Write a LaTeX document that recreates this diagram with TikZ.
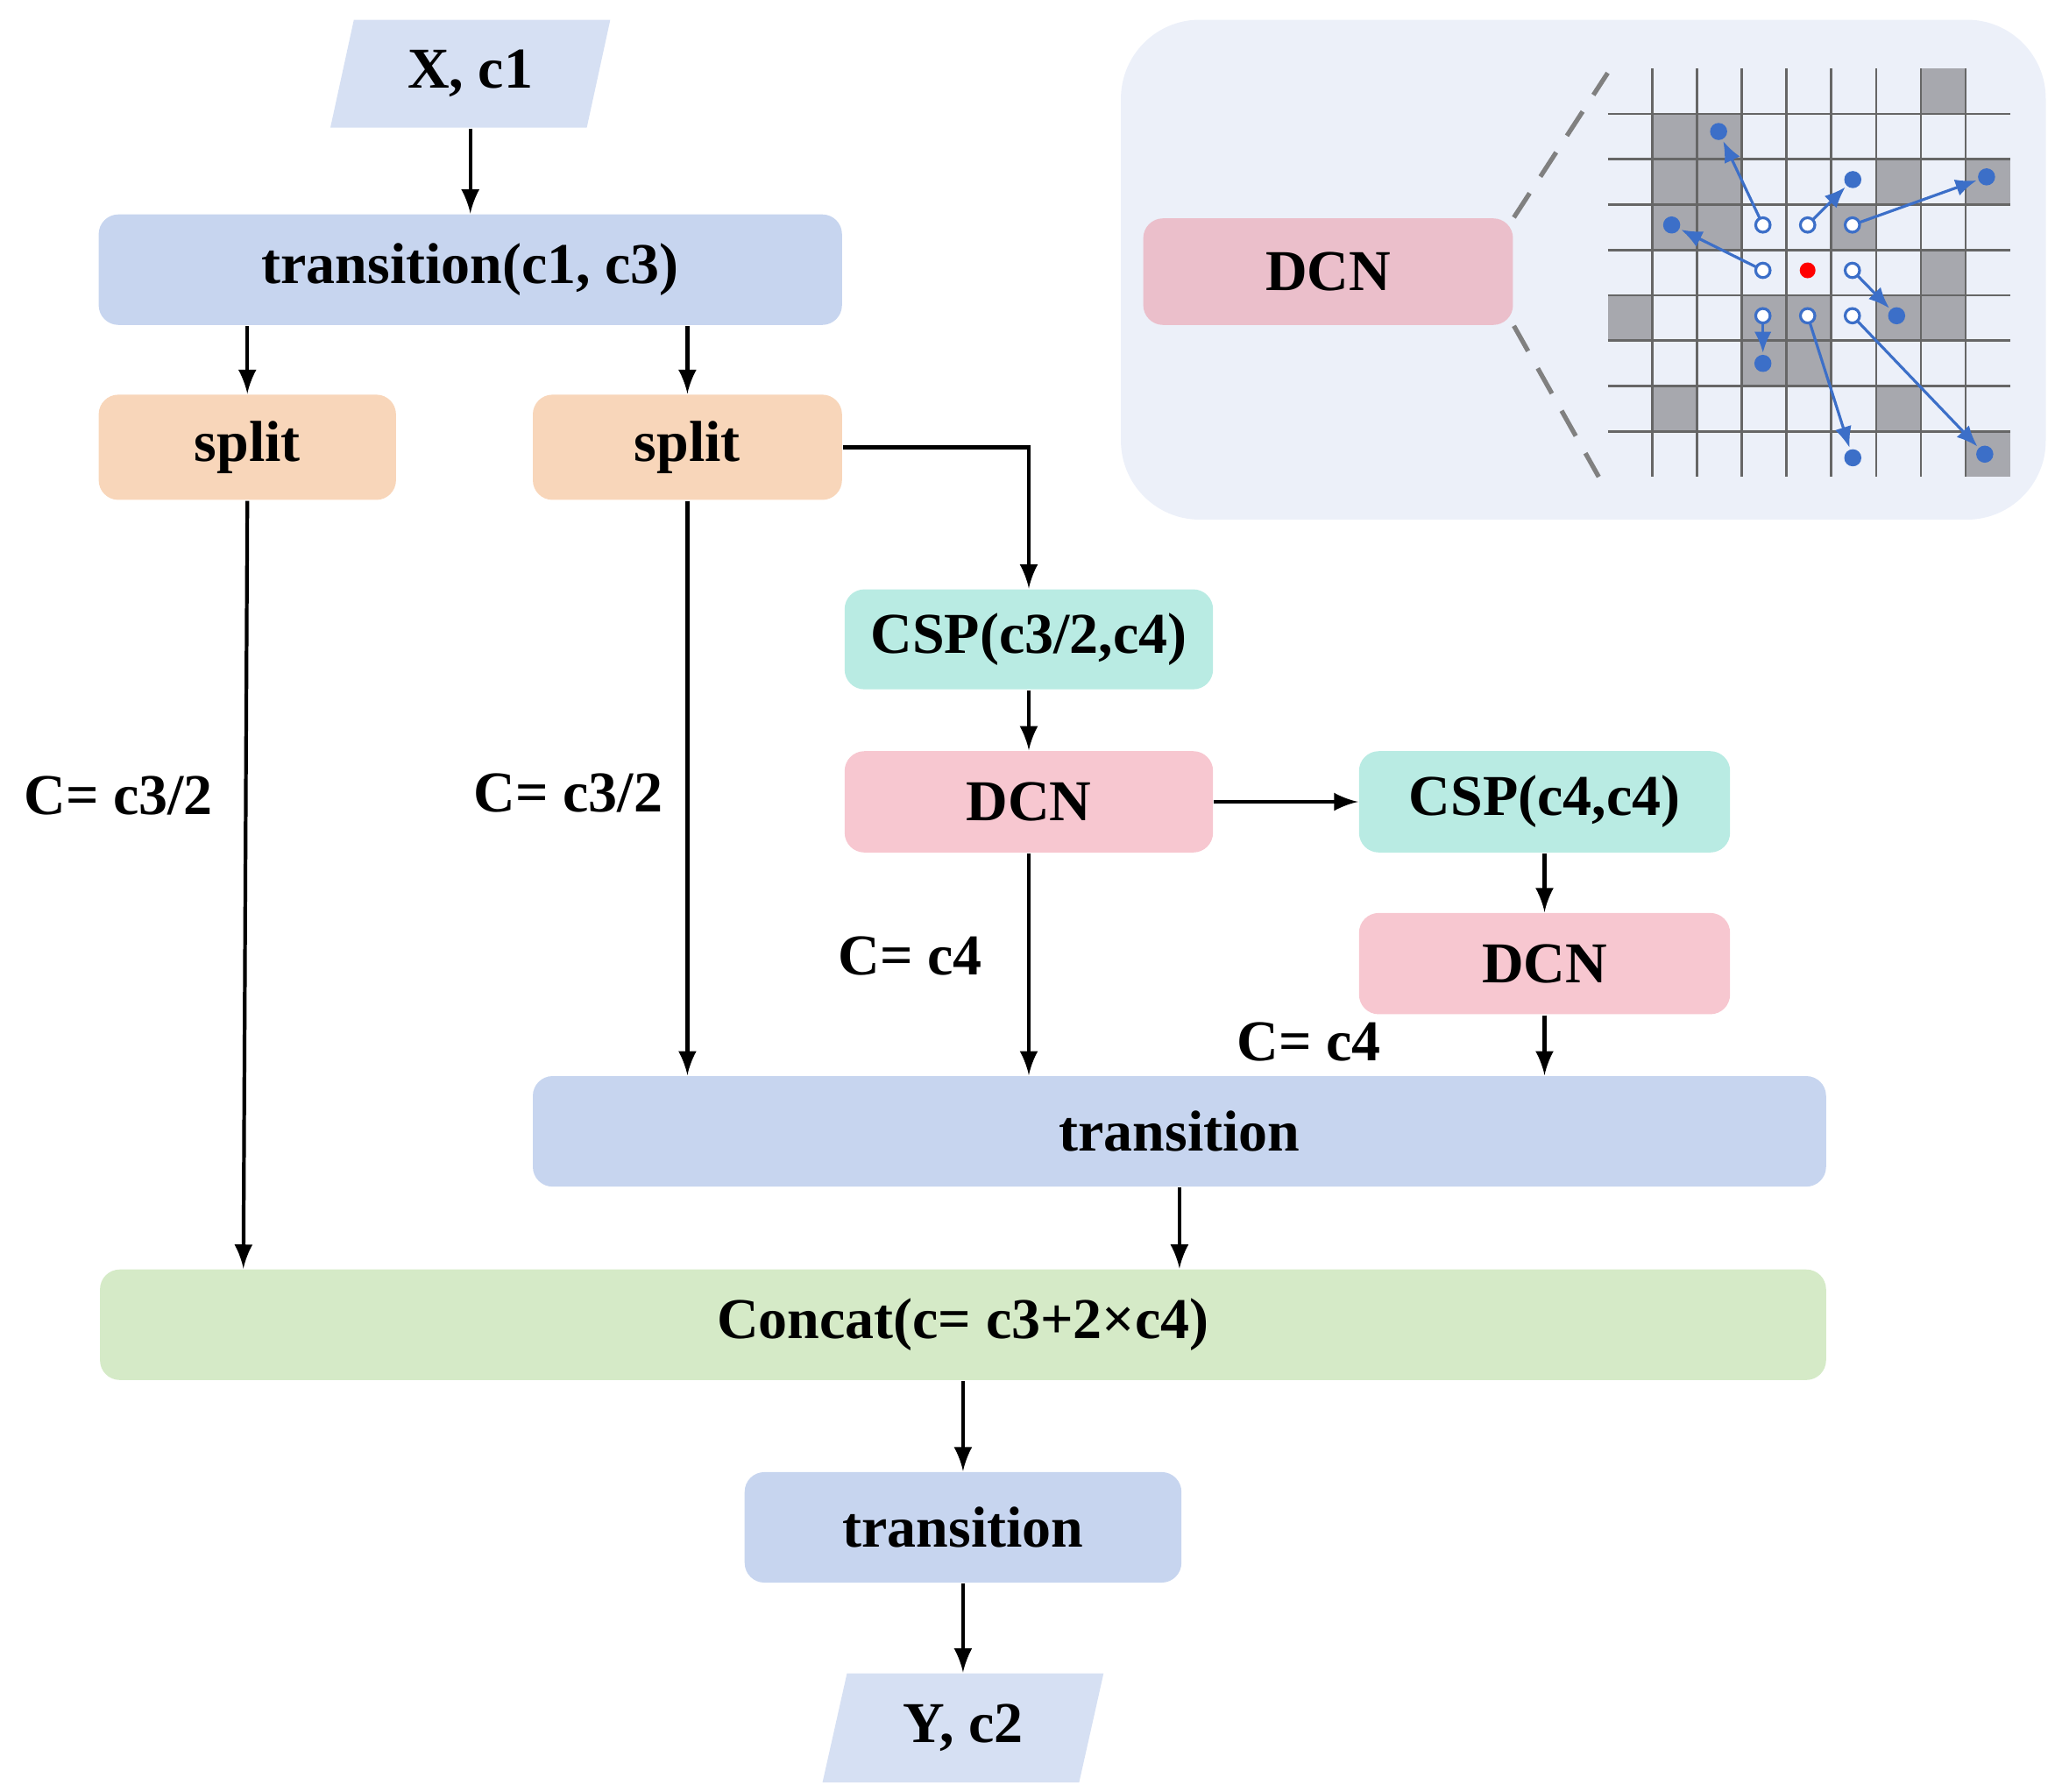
\documentclass[tikz,border=0pt]{standalone}
\usepackage{fontspec}
\setmainfont{Liberation Serif}
\usetikzlibrary{shapes.geometric, arrows.meta, calc}
\tikzset{>=latex}
\definecolor{trblue}{HTML}{C7D5EF}
\definecolor{ioblue}{HTML}{D6E0F3}
\definecolor{splitor}{HTML}{F8D6BA}
\definecolor{cspcyan}{HTML}{B9EBE3}
\definecolor{dcnpink}{HTML}{F7C7D0}
\definecolor{catgreen}{HTML}{D5EAC7}
\definecolor{insetbg}{HTML}{ECF0F9}
\definecolor{insetpink}{HTML}{EBBFCB}
\definecolor{cellgray}{HTML}{A7A8AE}
\definecolor{ptblue}{HTML}{3C6FC8}
\tikzset{
  blk/.style={rounded corners=1.5mm, draw=none, font=\bfseries\fontsize{12.5}{15}\selectfont, inner sep=0pt},
  io/.style={trapezium, trapezium left angle=75, trapezium right angle=105, trapezium stretches=true,
    fill=ioblue, font=\bfseries\fontsize{12.5}{15}\selectfont, inner sep=0pt},
  lbl/.style={font=\bfseries\fontsize{12.5}{15}\selectfont},
  flow/.style={->, line width=0.8pt},
}
\begin{document}
\begin{tikzpicture}[x=0.1mm, y=-0.1mm]
\useasboundingbox (0,0) rectangle (1562,1362);

% inset
\fill[insetbg, rounded corners=6mm] (852,15) rectangle (1555,395);
\node[blk, fill=insetpink, minimum width=28.1mm, minimum height=8.1mm] (dcn0) at (1009.5,206.5) {DCN};
\begin{scope}[shift={(1222,52)}, x=3.4mm, y=-3.45mm]
  \foreach \c/\r in {7/0, 1/1, 2/1, 1/2, 2/2, 6/2, 8/2, 1/3, 2/3, 5/3, 7/4,
                     0/5, 3/5, 4/5, 6/5, 7/5, 3/6, 4/6, 1/7, 6/7, 8/8}
    \fill[cellgray] (\c,\r) rectangle ++(1,1);
  \foreach \i in {1,...,8} {
    \draw[black!60, line width=0.5pt] (\i,0) -- (\i,9);
    \draw[black!60, line width=0.5pt] (0,\i) -- (9,\i);
  }
  \coordinate (g0) at (0,0.1);
  \coordinate (g1) at (-0.2,9);
  \foreach \sx/\sy/\tx/\ty in {3.47/3.45/2.48/1.39, 4.47/3.45/5.48/2.45, 5.47/3.45/8.47/2.39,
                               3.47/4.45/1.43/3.45, 5.47/4.45/6.46/5.45, 3.47/5.45/3.47/6.5,
                               4.47/5.45/5.48/8.58, 5.47/5.45/8.43/8.5} {
    \draw[ptblue, line width=0.6pt, -{Latex[length=1.6mm,width=1.3mm]}, shorten <=0.6mm, shorten >=0.8mm] (\sx,\sy) -- (\tx,\ty);
    \draw[ptblue, fill=white, line width=0.6pt] (\sx,\sy) circle (0.55mm);
    \fill[ptblue] (\tx,\ty) circle (0.65mm);
  }
  \fill[red] (4.47,4.45) circle (0.6mm);
\end{scope}
\draw[gray, dashed, line width=1pt, dash pattern=on 2.2mm off 1.5mm] (dcn0.north east) -- (g0);
\draw[gray, dashed, line width=1pt, dash pattern=on 2.2mm off 1.5mm] (dcn0.south east) -- (g1);

% main flow
\node[io, minimum width=21.3mm, minimum height=8.2mm] (xin) at (357.5,56) {X, c1};
\node[blk, fill=trblue, minimum width=56.5mm, minimum height=8.4mm] (tr1) at (357.5,205) {transition(c1, c3)};
\node[blk, fill=splitor, minimum width=22.6mm, minimum height=8mm] (sp1) at (188,340) {split};
\node[blk, fill=splitor, minimum width=23.5mm, minimum height=8mm] (sp2) at (522.5,340) {split};
\node[blk, fill=cspcyan, minimum width=28mm, minimum height=7.6mm] (csp1) at (782,486) {CSP(c3/2,c4)};
\node[blk, fill=dcnpink, minimum width=28mm, minimum height=7.7mm] (dcn1) at (782,609.5) {DCN};
\node[blk, fill=cspcyan, minimum width=28.2mm, minimum height=7.7mm] (csp2) at (1174,609.5) {CSP(c4,c4)};
\node[blk, fill=dcnpink, minimum width=28.2mm, minimum height=7.7mm] (dcn2) at (1174,732.5) {DCN};
\node[blk, fill=trblue, minimum width=98.3mm, minimum height=8.4mm] (tr2) at (896.5,860) {transition};
\node[blk, fill=catgreen, minimum width=131.2mm, minimum height=8.4mm] (cat) at (732,1007) {Concat(c= c3+2×c4)};
\node[blk, fill=trblue, minimum width=33.2mm, minimum height=8.4mm] (tr3) at (732,1161) {transition};
\node[io, minimum width=21.4mm, minimum height=8.3mm] (yout) at (732,1313.5) {Y, c2};

\draw[flow] (xin.south -| tr1.north) -- (tr1.north);
\draw[flow] (sp1.north |- tr1.south) -- (sp1.north);
\draw[flow] (sp2.north |- tr1.south) -- (sp2.north);
\draw[flow] (sp2.east) -| (csp1.north);
\draw[flow] (csp1) -- (dcn1);
\draw[flow] (dcn1) -- (csp2);
\draw[flow] (csp2) -- (dcn2);
\draw[flow] (dcn1.south) -- (dcn1.south |- tr2.north);
\draw[flow] (dcn2.south) -- (dcn2.south |- tr2.north);
\draw[flow] (sp2.south) -- (sp2.south |- tr2.north);
\draw[flow] (sp1.south) -- ($(sp1.south |- cat.north)+(-3,0)$);
\draw[flow] (tr2.south) -- (tr2.south |- cat.north);
\draw[flow] (cat.south -| tr3.north) -- (tr3.north);
\draw[flow] (tr3.south) -- (yout.north -| tr3.south);

\node[lbl] (c1lbl) at (90,605) {C= c3/2};
\node[lbl] (c2lbl) at (432,603) {C= c3/2};
\node[lbl] (c3lbl) at (692,727) {C= c4};
\node[lbl] (c4lbl) at (995,792) {C= c4};
\end{tikzpicture}
\end{document}
